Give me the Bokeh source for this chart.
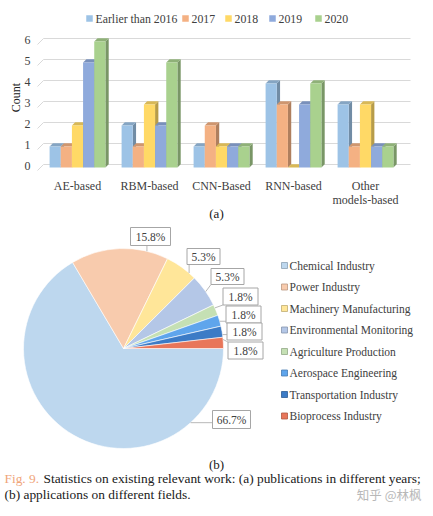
import math
from bokeh.plotting import figure
from bokeh.models import Range1d
from bokeh.embed import file_html
from bokeh.resources import INLINE
from bokeh.core.properties import value

# ---------------- data ----------------
categories = ["AE-based", "RBM-based", "CNN-Based", "RNN-based", "Other\nmodels-based"]
series_names = ["Earlier than 2016", "2017", "2018", "2019", "2020"]
earlier_than_2016 = [1, 2, 1, 4, 3]
y2017 = [1, 1, 2, 3, 1]
y2018 = [2, 3, 1, 0, 3]
y2019 = [5, 2, 1, 3, 1]
y2020 = [6, 5, 1, 4, 1]
count_ticks = [0, 1, 2, 3, 4, 5, 6]

fields = ["Chemical Industry", "Power Industry", "Machinery Manufacturing",
          "Environmental Monitoring", "Agriculture Production",
          "Aerospace Engineering", "Transportation Industry", "Bioprocess Industry"]
field_share = [66.7, 15.8, 5.3, 5.3, 1.8, 1.8, 1.8, 1.8]

caption_fig = "Fig. 9."
caption_1 = "Statistics on existing relevant work: (a) publications in different years;"
caption_2 = "(b) applications on different fields."
watermark = "知乎 @林枫"

# ---------------- styles ----------------
FONT = "Liberation Serif"
TXT = "#404040"
DARK = "#202020"
bar_colors = ["#9DC3E6", "#F4B183", "#FFD966", "#8FAADC", "#A9D18E"]
pie_colors = ["#BDD7EE", "#F8CBAD", "#FFE699", "#B4C7E7", "#C5E0B4",
              "#5FA5EC", "#3C7BC6", "#E8765A"]


def shade(c, f):
    r, g, b = int(c[1:3], 16), int(c[3:5], 16), int(c[5:7], 16)
    return "#%02x%02x%02x" % (int(r * f), int(g * f), int(b * f))


W, H = 425, 508
# One canvas; main ranges are picture pixels (y negated), bar chart has its own scales
PX_X, PX_Y = 72.0, 21.0          # pixels per category / per count
G0_PX, ZERO_PX = 77.0, 167.0     # picture position of first group / of count 0
bx_range = Range1d((0 - G0_PX) / PX_X, (W - G0_PX) / PX_X)
by_range = Range1d((ZERO_PX - H) / PX_Y, (ZERO_PX - 0) / PX_Y)

p = figure(width=W, height=H, output_backend="svg", toolbar_location=None,
           x_range=Range1d(0, W), y_range=Range1d(-H, 0),
           x_axis_type=None, y_axis_type=None, min_border=0)
p.extra_x_ranges = {"bx": bx_range}
p.extra_y_ranges = {"by": by_range}
p.outline_line_color = None
p.xgrid.visible = False
p.ygrid.visible = False

B = dict(x_range_name="bx", y_range_name="by")

# ---------------- (a) bar chart ----------------
n = len(count_ticks)
g_left = (43 - G0_PX) / PX_X
g_wall = (37 - G0_PX) / PX_X
g_right = (410 - G0_PX) / PX_X
gdy = 3 / PX_Y
p.segment(x0=[g_left] * n, y0=[t + gdy for t in count_ticks],
          x1=[g_right] * n, y1=[t + gdy for t in count_ticks],
          line_color="#D9D9D9", line_width=1, **B)
p.segment(x0=[g_wall] * n, y0=[t - gdy for t in count_ticks],
          x1=[g_left] * n, y1=[t + gdy for t in count_ticks],
          line_color="#D9D9D9", line_width=1, **B)

series = [earlier_than_2016, y2017, y2018, y2019, y2020]
w = 0.155
dx, dy = 3.3 / PX_X, 3.3 / PX_Y
for i, (vals, col) in enumerate(zip(series, bar_colors)):
    lefts = [g + (i - 2.5) * w for g in range(len(categories))]
    rights = [l + w for l in lefts]
    p.patches([[r, r + dx, r + dx, r] for r in rights],
              [[0, dy, v + dy, v] for v in vals],
              fill_color=shade(col, 0.72), line_color=None, **B)
    p.patches([[l, r, r + dx, l + dx] for l, r in zip(lefts, rights)],
              [[v, v, v + dy, v + dy] for v in vals],
              fill_color=shade(col, 0.85), line_color=None, **B)
    p.quad(left=lefts, right=rights, bottom=[0] * len(vals), top=vals,
           fill_color=col, line_color=None, **B)

# y tick labels and axis title
p.text(x=[30] * n, y=[t + 0.07 for t in count_ticks], text=[str(t) for t in count_ticks],
       text_font=value(FONT), text_font_size="12px", text_color=TXT,
       text_align="right", text_baseline="middle", y_range_name="by")
p.text(x=[15], y=[-97], text=["Count"], angle=math.pi / 2, text_font=value(FONT),
       text_font_size="12px", text_color=DARK, text_align="center",
       text_baseline="middle")
# category labels
p.text(x=list(range(len(categories))), y=[-178] * len(categories), text=categories,
       text_font=value(FONT), text_font_size="12px", text_color=TXT,
       text_align="center", text_baseline="top", text_line_height=1.05,
       x_range_name="bx")

# legend of years (layout positions in picture pixels)
leg_sq_x = [89, 185, 228, 272, 318]
p.rect(x=leg_sq_x, y=[-18] * 5, width=6.5, height=6.5, fill_color=bar_colors,
       line_color=None)
p.text(x=[v + 6 for v in leg_sq_x], y=[-18] * 5, text=series_names,
       text_font=value(FONT), text_font_size="11.8px", text_color=TXT,
       text_align="left", text_baseline="middle")

p.text(x=[216], y=[-213], text=["(a)"], text_font=value(FONT), text_font_size="13px",
       text_color=DARK, text_align="center", text_baseline="middle")

# ---------------- (b) pie chart ----------------
cx, cy, R = 123, -348, 100
total = sum(field_share)
order = list(range(len(fields)))[::-1]  # anticlockwise from 3 o'clock
starts, ends = {}, {}
acc = 0.0
for k in order:
    a0 = acc
    acc += field_share[k] / total * 2 * math.pi
    starts[k], ends[k] = a0, acc
p.wedge(x=[cx] * len(fields), y=[cy] * len(fields), radius=R,
        start_angle=[starts[k] for k in range(len(fields))],
        end_angle=[ends[k] for k in range(len(fields))],
        fill_color=pie_colors, line_color="white", line_width=0.6)

label_pos = [(231, 419), (150, 236), (203, 256), (227, 276),
             (240, 296), (243, 314), (244, 331), (245, 350)]
label_size = [(38, 18), (40, 18), (33, 16), (33, 16),
              (35, 17), (35, 17), (35, 17), (35, 17)]
lx0, ly0, lx1, ly1 = [], [], [], []
for k, ((bx, by), (bw, bh)) in enumerate(zip(label_pos, label_size)):
    a0, a1 = starts[k], ends[k]
    span = a1 - a0
    ang = math.atan2(-by - cy, bx - cx)
    while ang < a0:
        ang += 2 * math.pi
    ang = min(max(ang, a0 + 0.2 * span), a1 - 0.2 * span)
    px = cx + R * math.cos(ang)
    py = cy + R * math.sin(ang)
    qx = min(max(px, bx - bw / 2), bx + bw / 2)
    qy = min(max(py, -by - bh / 2), -by + bh / 2)
    lx0.append(px); ly0.append(py); lx1.append(qx); ly1.append(qy)
p.segment(x0=lx0, y0=ly0, x1=lx1, y1=ly1, line_color="#A6A6A6", line_width=0.8)
p.rect(x=[b[0] for b in label_pos], y=[-b[1] for b in label_pos],
       width=[s[0] for s in label_size], height=[s[1] for s in label_size],
       fill_color="white", line_color="#A6A6A6", line_width=1)
p.text(x=[b[0] for b in label_pos], y=[-b[1] for b in label_pos],
       text=["%.1f%%" % s for s in field_share], text_font=value(FONT),
       text_font_size="11.5px", text_color=TXT, text_align="center",
       text_baseline="middle")

leg_y = [265 + 21.5 * i for i in range(len(fields))]
p.rect(x=[284] * len(fields), y=[-v for v in leg_y], width=6, height=6,
       fill_color=pie_colors, line_color=[shade(c, 0.75) for c in pie_colors],
       line_width=0.8)
p.text(x=[289] * len(fields), y=[-v for v in leg_y], text=fields,
       text_font=value(FONT), text_font_size="11.5px", text_color=TXT,
       text_align="left", text_baseline="middle")

# captions
p.text(x=[216], y=[-464], text=["(b)"], text_font=value(FONT), text_font_size="13px",
       text_color=DARK, text_align="center", text_baseline="middle")
p.text(x=[4], y=[-478], text=[caption_fig], text_font=value(FONT),
       text_font_size="13.4px", text_color="#F0A57A", text_align="left",
       text_baseline="middle")
p.text(x=[43], y=[-478], text=[caption_1], text_font=value(FONT),
       text_font_size="13.4px", text_color=DARK, text_align="left",
       text_baseline="middle")
p.text(x=[4], y=[-494], text=[caption_2], text_font=value(FONT),
       text_font_size="13.4px", text_color=DARK, text_align="left",
       text_baseline="middle")
p.text(x=[421], y=[-494], text=[watermark], text_font=value("Noto Sans CJK SC"),
       text_font_size="12.5px", text_color="#B8B8B8", text_align="right",
       text_baseline="middle")

open("out.html", "w").write(file_html(p, INLINE))
